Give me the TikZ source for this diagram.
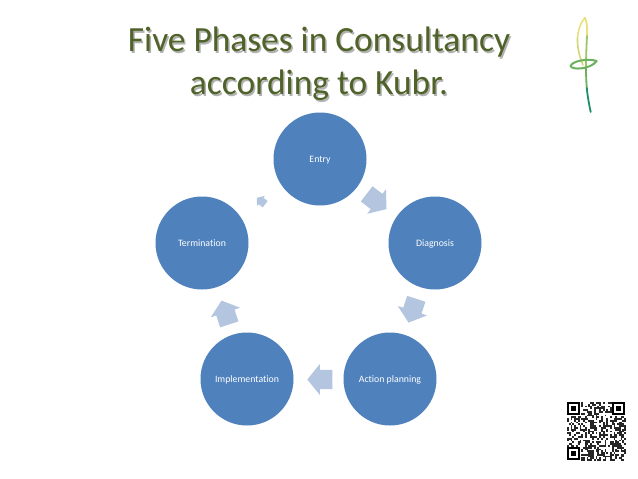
\documentclass[tikz,border=0pt]{standalone}
\usepackage{fontspec}
\setmainfont{Carlito}[Ligatures=NoCommon]
\definecolor{circ}{HTML}{4F81BD}
\definecolor{barrow}{HTML}{B4C5DF}
\definecolor{ttl}{HTML}{4F6228}
\definecolor{lgy}{HTML}{E8E27A}
\definecolor{lgm}{HTML}{9CC46A}
\definecolor{lgg}{HTML}{6DB060}
\definecolor{lgt}{HTML}{1F8F6A}
\newcommand{\phasetext}[1]{\raisebox{-3.6pt}[0pt][0pt]{#1}}
\tikzset{
  phase/.style={circle,fill=circ,minimum size=93pt,inner sep=0pt,text=white,font=\fontsize{9.8pt}{12pt}\selectfont},
  blockarrow/.pic={\fill[barrow] (-12.5,-9.6)--(0,-9.6)--(0,-15.4)--(12.5,0)--(0,15.4)--(0,9.6)--(-12.5,9.6)--cycle;},
  titletext/.style={font=\fontsize{35.4pt}{43pt}\selectfont,align=center},
  lg/.style={line cap=round,line width=#1}
}
\begin{document}
\begin{tikzpicture}[x=1pt,y=-1pt]
\useasboundingbox (0,0) rectangle (638,479);
\fill[white] (0,0) rectangle (638,479);
\node[titletext,text=black!30] (titleshadow) at (320.5,65.5) {Five Phases in Consultancy\\according to Kubr.};
\node[titletext,text=ttl] (title) at (319,64) {Five Phases in Consultancy\\according to Kubr.};
\node[phase] (entry) at (320,159) {\phasetext{Entry}};
\node[phase] (diag) at (435,243) {\phasetext{Diagnosis}};
\node[phase] (act) at (390,379) {\phasetext{Action planning}};
\node[phase] (impl) at (247,379) {\phasetext{Implementation}};
\node[phase] (term) at (202,243) {\phasetext{Termination}};
\pic[rotate=-37.5] at (376.6,201.5) {blockarrow};
\pic[rotate=-108] at (412.4,310.7) {blockarrow};
\pic[rotate=180] at (319.8,379.5) {blockarrow};
\pic[rotate=108] at (225.4,312.5) {blockarrow};
\pic[rotate=143,scale=.42] at (261,201) {blockarrow};
% logo
\draw[lg=1.6pt,lgy] (585,17.7) .. controls (581,22) and (578,30) .. (577.5,38);
\draw[lg=1.6pt,lgy!70!lgm] (577.5,38) .. controls (577,48) and (580,58) .. (583,65);
\draw[lg=1.8pt,lgy] (585,17.7) .. controls (587,22) and (587.3,28) .. (587,36);
\draw[lg=1.8pt,lgm] (587,36) .. controls (586.5,46) and (586,56) .. (586,68);
\draw[lg=2pt,lgg] (596.7,61) .. controls (588,58) and (572,61) .. (570.7,66) .. controls (571,70) and (590,70) .. (596.7,61);
\draw[lg=1.8pt,lgg] (586,68) .. controls (586,76) and (586.3,82) .. (586.8,88);
\draw[lg=1.8pt,lgt] (586.8,88) .. controls (587.5,96) and (589,104) .. (590.7,112);
% QR code
\begin{scope}[shift={(567,402)},x=1.79pt,y=-1.79pt]
\pgfmathsetseed{4711}
\foreach \r in {0,...,32}{\foreach \c in {0,...,32}{
  \pgfmathparse{rnd<0.5?1:0}
  \ifnum\pgfmathresult>0
    \fill[black!85] (\c,\r) rectangle ++(1,1);
  \fi
}}
\foreach \ox/\oy in {0/0,25/0,0/25}{
  \fill[white] (\ox-0.0,\oy-0.0) rectangle ++(8,8);
  \fill[black] (\ox,\oy) rectangle ++(7.5,7.5);
  \fill[white] (\ox+1.2,\oy+1.2) rectangle ++(5.1,5.1);
  \fill[black] (\ox+2.3,\oy+2.3) rectangle ++(2.9,2.9);
}
\end{scope}
\end{tikzpicture}
\end{document}
